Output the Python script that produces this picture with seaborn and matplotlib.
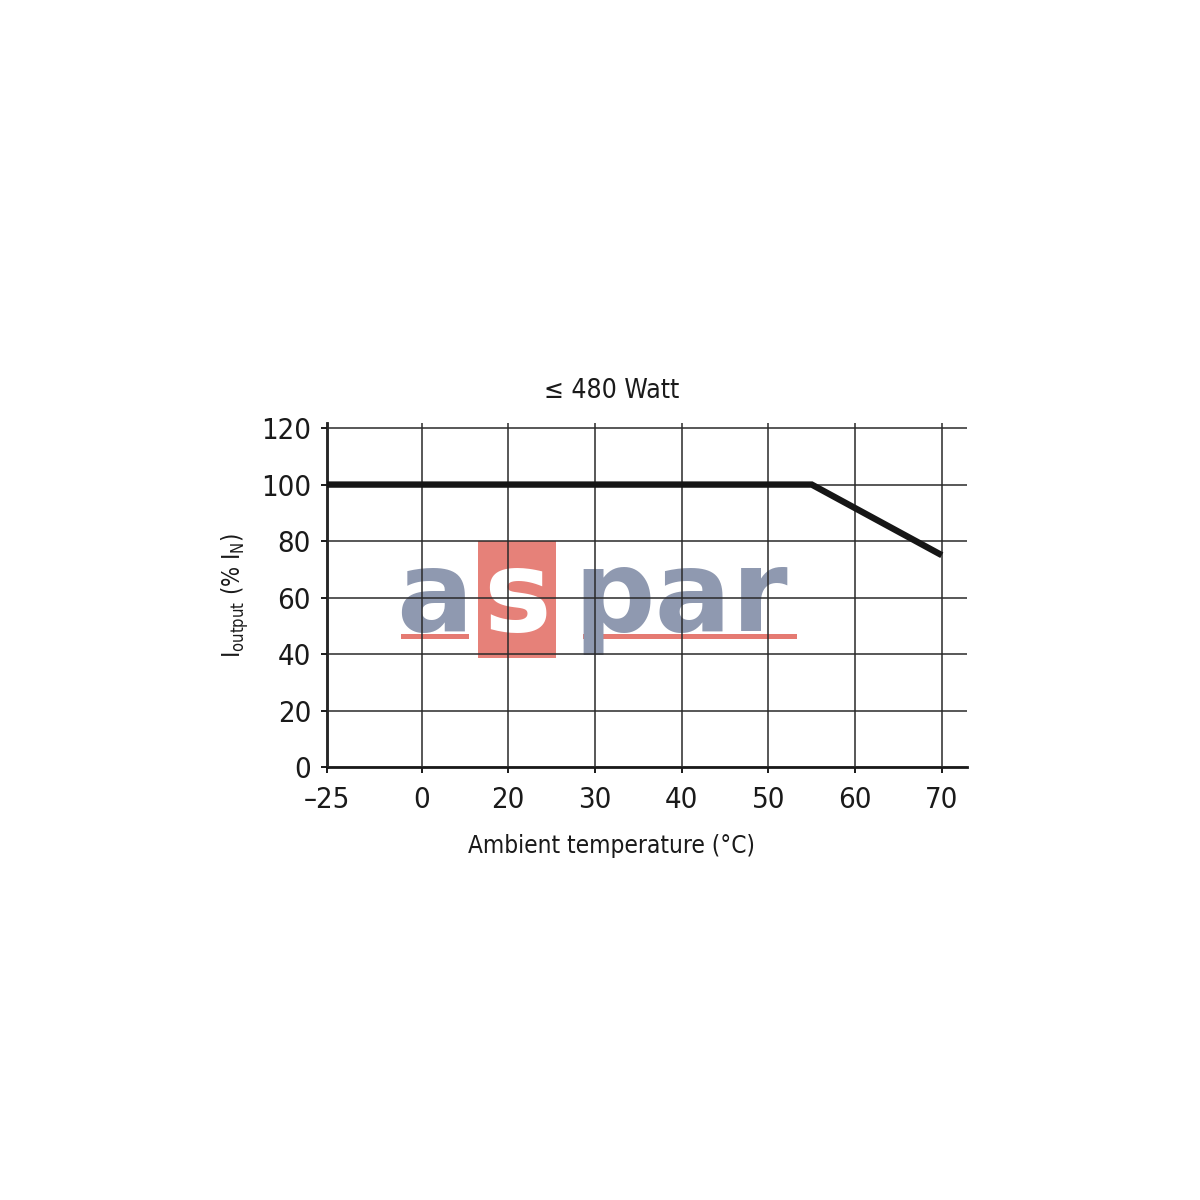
import numpy as np
import pandas as pd
import matplotlib
matplotlib.use("Agg")
import matplotlib.pyplot as plt
import seaborn as sns
from matplotlib.patches import Rectangle

# ---- data ----
temperature = [-25, 55, 70]
output_pct = [100, 100, 75]
x_ticks = [-25, 0, 20, 30, 40, 50, 60, 70]
y_ticks = [0, 20, 40, 60, 80, 100, 120]
title = "\u2264 480 Watt"
x_label = "Ambient temperature (\u00b0C)"
y_label = r"I$_{\mathrm{output}}$ (% I$_{\mathrm{N}}$)"

# piecewise axis (non-uniform tick spacing as in the original datasheet)
scale_temps = [-25, 0, 20, 30, 40, 50, 60, 70, 80]
scale_pos = [-1.09, 0, 1, 2, 3, 4, 5, 6, 7]

sns.set_theme(style="white")
plt.rcParams["font.family"] = ["DejaVu Sans"]
plt.rcParams["font.stretch"] = "condensed"

fig = plt.figure(figsize=(12, 12), dpi=100)
fig.patch.set_facecolor("white")
ax = fig.add_axes([0.2725, 0.3608, 0.5333, 0.2867])
ax.set_facecolor("none")

fwd = lambda t: np.interp(t, scale_temps, scale_pos)
inv = lambda p: np.interp(p, scale_pos, scale_temps)
ax.set_xscale("function", functions=(fwd, inv))

df = pd.DataFrame({"t": temperature, "i": output_pct})
sns.lineplot(data=df, x="t", y="i", ax=ax, color="#161616", linewidth=4.6,
             solid_capstyle="butt", solid_joinstyle="miter", zorder=5)

ax.set_xlim(-25, 72.9)
ax.set_ylim(0, 121.8)
ax.set_xticks(x_ticks)
ax.set_xticklabels([("\u2013" + str(-v)) if v < 0 else str(v) for v in x_ticks])
ax.set_yticks(y_ticks)
ax.grid(True, color="#2a2a2a", linewidth=1.1, zorder=1)
ax.set_axisbelow(False)

for side in ["top", "right"]:
    ax.spines[side].set_visible(False)
for side in ["left", "bottom"]:
    ax.spines[side].set_color("#1a1a1a")
    ax.spines[side].set_linewidth(2.0)

ax.tick_params(axis="both", which="major", direction="out", length=4.5, width=1.4,
               colors="#1a1a1a", labelsize=21, labelcolor="#1a1a1a")
ax.tick_params(axis="y", left=True, pad=7)
ax.tick_params(axis="x", bottom=True, pad=9)

ax.set_xlabel(x_label, fontsize=17.5, color="#1a1a1a")
ax.xaxis.set_label_coords(0.444, -0.195)
ax.set_ylabel(y_label, fontsize=17, color="#1a1a1a")
ax.yaxis.set_label_coords(-0.118, 0.5)
ax.set_title(title, fontsize=19, color="#1a1a1a", pad=18, x=0.444)

# watermark (aspar logo approximation)
red = "#e57a72"
grey = "#8f99b0"
fig.patches.append(Rectangle((478 / 1200, 1 - 658 / 1200), 78 / 1200, 117 / 1200,
                             transform=fig.transFigure, facecolor=red, edgecolor="none",
                             alpha=0.95, zorder=-2))
fig.patches.append(Rectangle((401 / 1200, 1 - 639 / 1200), 68 / 1200, 5 / 1200,
                             transform=fig.transFigure, facecolor=red, edgecolor="none", zorder=-2))
fig.patches.append(Rectangle((583 / 1200, 1 - 639 / 1200), 214 / 1200, 5 / 1200,
                             transform=fig.transFigure, facecolor=red, edgecolor="none", zorder=-2))
wm = dict(fontsize=82, fontweight="bold", family="DejaVu Sans", va="baseline",
          ha="center", zorder=-1, fontstretch="normal")
fig.text(435 / 1200, 1 - 631 / 1200, "a", color=grey, **wm)
fig.text(517 / 1200, 1 - 631 / 1200, "s", color="white", **wm)
fig.text(681 / 1200, 1 - 631 / 1200, "par", color=grey, **wm)

fig.savefig("out.png", dpi=100, facecolor="white")
